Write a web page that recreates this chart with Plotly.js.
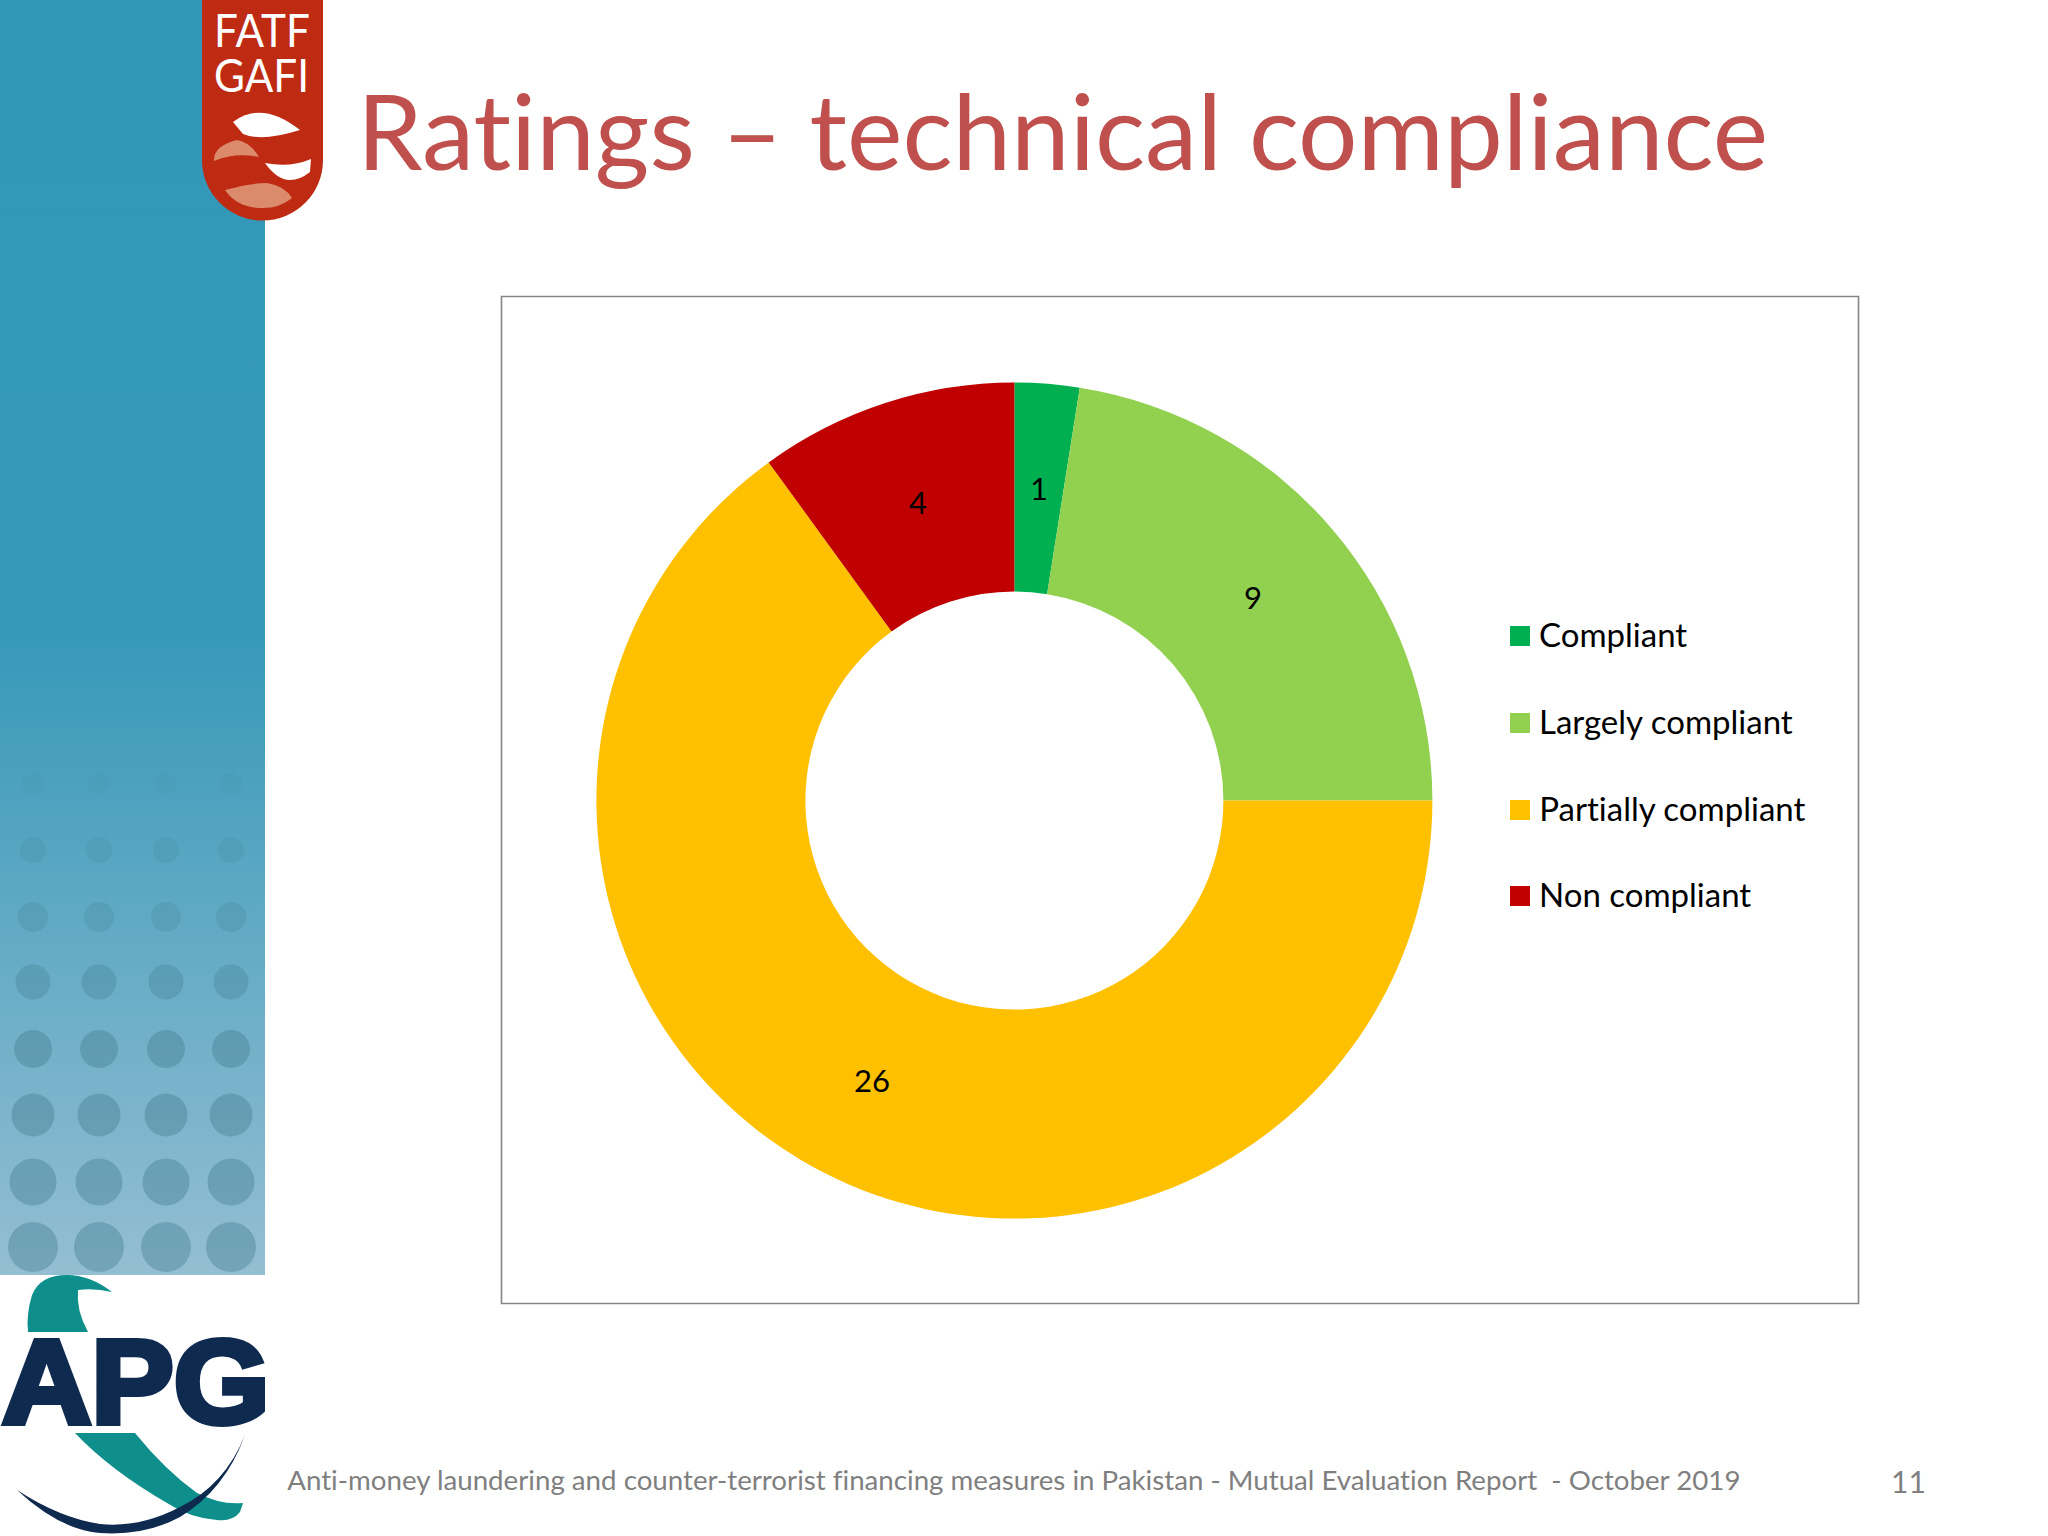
<!DOCTYPE html>
<html><head><meta charset="utf-8">
<script src="https://cdn.plot.ly/plotly-3.0.1.min.js"></script>
<style>
html,body{margin:0;padding:0;background:#fff;width:2048px;height:1536px;overflow:hidden}
#deco{position:absolute;left:0;top:0;z-index:0}
#chart{position:absolute;left:0;top:0;width:2048px;height:1536px;z-index:1}
#chart text, #deco text{font-variant-ligatures:none;font-feature-settings:"liga" 0,"clig" 0}
</style></head><body>
<svg id="deco" width="2048" height="1536" viewBox="0 0 2048 1536" xmlns="http://www.w3.org/2000/svg">
<defs><linearGradient id="g" x1="0" y1="0" x2="0" y2="1">
<stop offset="0" stop-color="#3298B8"/><stop offset="0.5" stop-color="#3799B9"/><stop offset="1" stop-color="#94BED2"/>
</linearGradient>
<clipPath id="apgclip"><rect x="0" y="1320" width="265" height="120"/></clipPath></defs>
<rect x="0" y="0" width="265" height="1275" fill="url(#g)"/>
<g id="dots"></g>
<path d="M202 0H323V160A60.5 60.5 0 0 1 202 160Z" fill="#BE2A12"/>
<text transform="translate(214,0) scale(0.9,1)" font-family="Lato" font-size="47" fill="#fff"><tspan x="0" y="47">FATF</tspan><tspan x="0" y="92">GAFI</tspan></text>
<path d="M233 122Q262 100 300 130Q262 142 243 134Z" fill="#fff"/>
<path d="M214 161Q213 146 237 140Q250 142 259 157Q235 152 214 161Z" fill="#DB8A6C"/>
<path d="M265 163Q290 168 311 159L310 172Q300 180 290 180Q277 180 265 163Z" fill="#fff"/>
<path d="M225 190Q250 183 267 183Q285 186 292 198Q280 208 263 208Q237 208 225 190Z" fill="#DB8A6C"/>
<path d="M28 1332H88Q76 1310 78 1290Q95 1288 112 1292Q90 1275 67 1275Q40 1275 32 1295Q26 1315 28 1332Z" fill="#0E8F8C"/>
<text x="2" y="1423" font-family="Liberation Sans" font-weight="700" font-size="119" fill="#0F2A4F" stroke="#0F2A4F" stroke-width="6" stroke-linejoin="miter" textLength="268" lengthAdjust="spacingAndGlyphs" clip-path="url(#apgclip)">APG</text>
<path d="M75 1433H135Q165 1470 197 1493Q220 1505 243 1503L240 1512Q232 1522 217 1520Q190 1518 167 1503Q110 1470 75 1433Z" fill="#0E8F8C"/>
<path d="M17 1490Q60 1530 100 1533Q145 1536 180 1517Q225 1490 245 1435Q225 1485 180 1507Q140 1528 100 1524Q60 1518 17 1490Z" fill="#0F2A4F"/>
</svg>
<div id="chart"></div>
<script>
const categories = ["Compliant", "Largely compliant", "Partially compliant", "Non compliant"];
const ratingCounts = [1, 9, 26, 4];
const sliceColors = ["#00B050", "#92D050", "#FFC000", "#C00000"];
const titleText = "Ratings – technical compliance";
const footerText = "Anti-money laundering and counter-terrorist financing measures in Pakistan - Mutual Evaluation Report  - October 2019";
const pageNumber = "11";

const dotRows = [784, 850, 917, 982, 1049, 1115, 1182, 1247];
const dotRadii = [11, 13, 15, 17.5, 19, 21.5, 23.5, 25];
const dotAlpha = [0.06, 0.15, 0.22, 0.3, 0.38, 0.38, 0.38, 0.38];
const dotCols = [33, 99, 166, 231];
const dotsEl = document.getElementById("dots");
let dotsSvg = "";
dotRows.forEach((y, i) => dotCols.forEach(x => {
  dotsSvg += `<circle cx="${x}" cy="${y}" r="${dotRadii[i]}" fill="#3F7A8C" fill-opacity="${dotAlpha[i]}"/>`;
}));
dotsEl.innerHTML = dotsSvg;

const W = 2048, H = 1536;
const px = x => x / W, py = y => 1 - y / H;
const FONT = "Lato, Carlito, Calibri, sans-serif";

const cx = 1014.4, cy = 800.6, R = 418, holeFrac = 0.5;
const data = [{
  type: "pie",
  labels: categories,
  values: ratingCounts,
  sort: false,
  direction: "clockwise",
  rotation: 0,
  hole: holeFrac,
  marker: {colors: sliceColors, line: {width: 0}},
  textinfo: "none",
  hoverinfo: "label+value",
  showlegend: false,
  domain: {x: [px(cx - R), px(cx + R)], y: [py(cy + R), py(cy - R)]}
}];

const swatchY = [636, 723, 810, 896];
const shapes = [{
  type: "rect", xref: "paper", yref: "paper",
  x0: px(501.5), x1: px(1858.5), y0: py(1303.5), y1: py(296.5),
  line: {color: "#868686", width: 1.6}, fillcolor: "rgba(0,0,0,0)"
}];
const annotations = [];
categories.forEach((c, i) => {
  shapes.push({type: "rect", xref: "paper", yref: "paper",
    x0: px(1510), x1: px(1530), y0: py(swatchY[i] + 10), y1: py(swatchY[i] - 10),
    fillcolor: sliceColors[i], line: {width: 0}});
  annotations.push({xref: "paper", yref: "paper", x: px(1537), y: py(swatchY[i] - 2),
    xanchor: "left", yanchor: "middle", showarrow: false, text: c,
    font: {family: FONT, size: 33, color: "#000"}});
});
// value labels sit at the middle of each ring segment, computed from the counts
const total = ratingCounts.reduce((a, b) => a + b, 0);
const ringR = R * (1 + holeFrac) / 2;
let run = 0;
ratingCounts.forEach(v => {
  const mid = (run + v / 2) / total * 2 * Math.PI;
  run += v;
  annotations.push({xref: "paper", yref: "paper",
    x: px(cx + ringR * Math.sin(mid)), y: py(cy - ringR * Math.cos(mid)),
    xanchor: "center", yanchor: "middle", showarrow: false, text: String(v),
    font: {family: FONT, size: 31, color: "#000"}});
});
const note = (text, x, y, size, color) => annotations.push({
  xref: "paper", yref: "paper", x: px(x), y: py(y), xanchor: "left", yanchor: "middle",
  showarrow: false, text: text, font: {family: FONT, size: size, color: color}
});
note(titleText, 354, 129, 105, "#C0504D");
note(footerText, 285, 1479, 27.7, "#7F7F7F");
note(pageNumber, 1889, 1481, 30, "#7F7F7F");

const layout = {
  width: W, height: H,
  margin: {l: 0, r: 0, t: 0, b: 0},
  paper_bgcolor: "rgba(0,0,0,0)",
  plot_bgcolor: "rgba(0,0,0,0)",
  showlegend: false,
  shapes, annotations
};
Plotly.newPlot("chart", data, layout, {displayModeBar: false, responsive: false});
</script>
</body></html>
